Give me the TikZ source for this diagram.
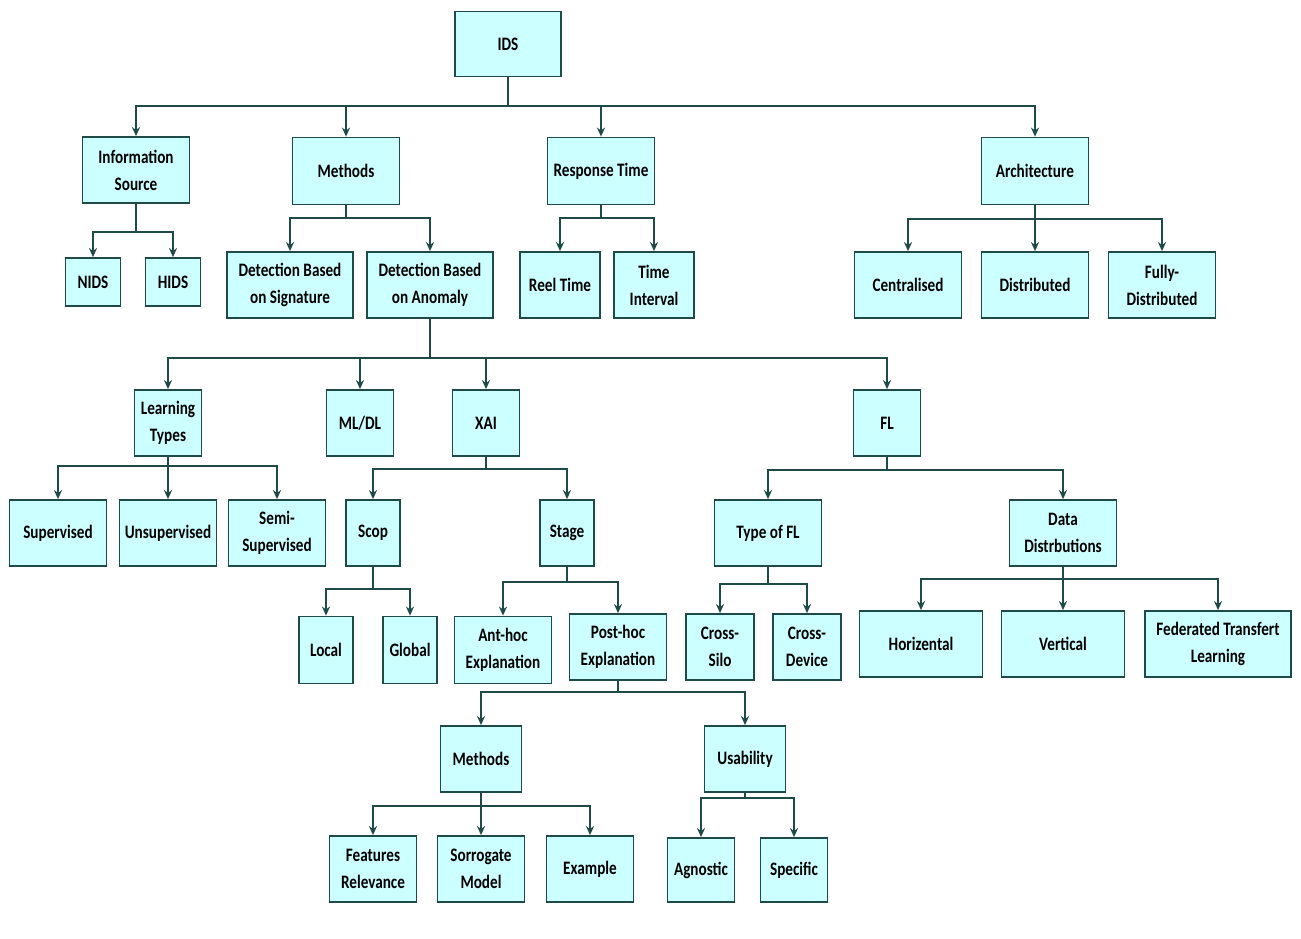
\documentclass[tikz,border=0pt]{standalone}
\usepackage{fontspec}
\setmainfont{Carlito}[FakeStretch=0.8]
\usetikzlibrary{arrows.meta}
\definecolor{bx}{HTML}{CCFFFF}
\definecolor{ln}{HTML}{1E4A48}
\tikzset{
 bxs/.style={draw=ln,line width=1.8pt,fill=bx,align=center,font=\bfseries\fontsize{19}{27}\selectfont,inner sep=1pt},
 cn/.style={draw=ln,line width=2.4pt,-{Stealth[length=9pt,width=8pt]}},
}
\newcommand{\bxn}[6]{\node[bxs,minimum width=#4pt,minimum height=#5pt] (#1) at (#2,#3) {#6};}
\newcommand{\lnk}[3]{\draw[cn] (#1.south) |- (#3.north |- 0,#2) -- (#3.north);}
\begin{document}
\begin{tikzpicture}[x=1pt,y=-1pt]
\useasboundingbox[fill=white] (0,0) rectangle (1301,938);
\bxn{ids}{508}{44}{106}{65}{IDS}
\bxn{info}{136}{170}{107}{66}{Information\\Source}
\bxn{meth}{346}{171}{107}{67}{Methods}
\bxn{resp}{601}{171}{107}{67}{Response Time}
\bxn{arch}{1035}{171}{107}{67}{Architecture}
\bxn{nids}{93}{282}{55}{48}{NIDS}
\bxn{hids}{173}{282}{55}{48}{HIDS}
\bxn{sig}{290}{285}{126}{66}{Detection Based\\on Signature}
\bxn{ano}{430}{285}{126}{66}{Detection Based\\on Anomaly}
\bxn{reel}{560}{285}{80}{66}{Reel Time}
\bxn{tint}{654}{285}{80}{66}{Time\\Interval}
\bxn{cen}{908}{285}{107}{66}{Centralised}
\bxn{dis}{1035}{285}{107}{66}{Distributed}
\bxn{fdis}{1162}{285}{107}{66}{Fully-\\Distributed}
\bxn{lt}{168}{423}{67}{66}{Learning\\Types}
\bxn{ml}{360}{423}{67}{66}{ML/DL}
\bxn{xai}{486}{423}{67}{66}{XAI}
\bxn{fl}{887}{423}{67}{66}{FL}
\bxn{sup}{58}{533}{97}{66}{Supervised}
\bxn{uns}{168}{533}{97}{66}{Unsupervised}
\bxn{semi}{277}{533}{97}{66}{Semi-\\Supervised}
\bxn{scop}{373}{533}{54}{66}{Scop}
\bxn{stage}{567}{533}{54}{66}{Stage}
\bxn{tfl}{768}{533}{107}{66}{Type of FL}
\bxn{data}{1063}{533}{107}{66}{Data\\Distrbutions}
\bxn{loc}{326}{650}{54}{67}{Local}
\bxn{glo}{410}{650}{54}{67}{Global}
\bxn{ant}{503}{650}{97}{67}{Ant-hoc\\Explanation}
\bxn{post}{618}{647}{97}{66}{Post-hoc\\Explanation}
\bxn{silo}{720}{647}{68}{66}{Cross-\\Silo}
\bxn{dev}{807}{647}{68}{66}{Cross-\\Device}
\bxn{hor}{921}{644}{123}{66}{Horizental}
\bxn{ver}{1063}{644}{123}{66}{Vertical}
\bxn{ftl}{1218}{644}{146}{66}{Federated Transfert\\Learning}
\bxn{meth2}{481}{759}{81}{66}{Methods}
\bxn{usa}{745}{759}{81}{66}{Usability}
\bxn{feat}{373}{869}{87}{66}{Features\\Relevance}
\bxn{sorr}{481}{869}{87}{66}{Sorrogate\\Model}
\bxn{exa}{590}{869}{87}{66}{Example}
\bxn{agn}{701}{870}{67}{64}{Agnostic}
\bxn{spe}{794}{870}{67}{64}{Specific}
\foreach \c in {info,meth,resp,arch}{\lnk{ids}{106}{\c}}
\foreach \c in {nids,hids}{\lnk{info}{232}{\c}}
\foreach \c in {sig,ano}{\lnk{meth}{218}{\c}}
\foreach \c in {reel,tint}{\lnk{resp}{218}{\c}}
\foreach \c in {cen,dis,fdis}{\lnk{arch}{219}{\c}}
\foreach \c in {lt,ml,xai,fl}{\lnk{ano}{358}{\c}}
\foreach \c in {sup,uns,semi}{\lnk{lt}{466}{\c}}
\foreach \c in {scop,stage}{\lnk{xai}{469}{\c}}
\foreach \c in {tfl,data}{\lnk{fl}{470}{\c}}
\foreach \c in {loc,glo}{\lnk{scop}{589}{\c}}
\foreach \c in {ant,post}{\lnk{stage}{582}{\c}}
\foreach \c in {silo,dev}{\lnk{tfl}{584}{\c}}
\foreach \c in {hor,ver,ftl}{\lnk{data}{579}{\c}}
\foreach \c in {meth2,usa}{\lnk{post}{692}{\c}}
\foreach \c in {feat,sorr,exa}{\lnk{meth2}{806}{\c}}
\foreach \c in {agn,spe}{\lnk{usa}{798}{\c}}
\end{tikzpicture}
\end{document}
